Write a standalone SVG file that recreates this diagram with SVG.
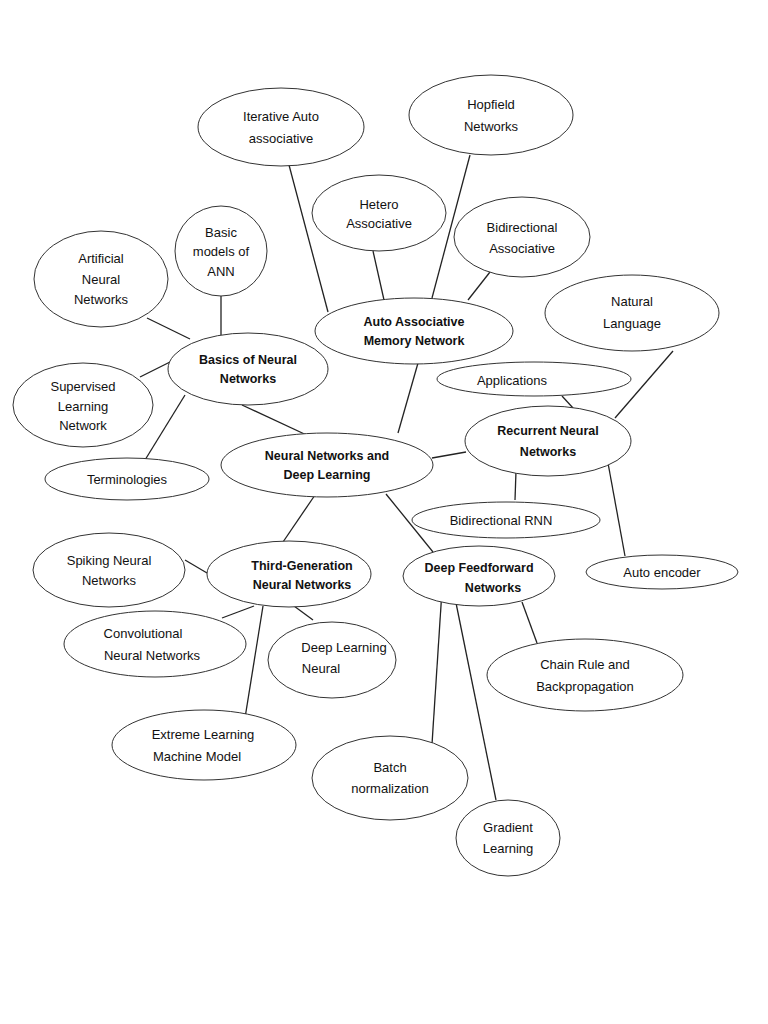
<svg xmlns="http://www.w3.org/2000/svg" width="768" height="1024" viewBox="0 0 768 1024">
<style>
ellipse{fill:#fff;stroke:#333;stroke-width:1}
line{stroke:#222;stroke-width:1.3}
text{font-family:"Liberation Sans",Arial,sans-serif;font-size:13px;fill:#111;text-anchor:middle}
.b{font-weight:bold;font-size:12.5px}
</style>
<rect width="768" height="1024" fill="#fff"/>
<g id="connectors">
<line x1="289" y1="165" x2="328" y2="312"/>
<line x1="470" y1="155" x2="432" y2="298"/>
<line x1="373" y1="251" x2="384" y2="300"/>
<line x1="490" y1="272" x2="468" y2="300"/>
<line x1="221" y1="296" x2="221" y2="335"/>
<line x1="147" y1="318" x2="190" y2="339"/>
<line x1="140" y1="377" x2="170" y2="362"/>
<line x1="185" y1="395" x2="145" y2="460"/>
<line x1="242" y1="405" x2="313" y2="438"/>
<line x1="418" y1="363" x2="398" y2="433"/>
<line x1="432" y1="458" x2="466" y2="452"/>
<line x1="673" y1="351" x2="615" y2="418"/>
<line x1="562" y1="396" x2="573" y2="408"/>
<line x1="516" y1="471" x2="515" y2="500"/>
<line x1="608" y1="463" x2="625" y2="556"/>
<line x1="315" y1="495" x2="283" y2="542"/>
<line x1="386" y1="494" x2="433" y2="552"/>
<line x1="185" y1="560" x2="207" y2="573"/>
<line x1="254" y1="606" x2="222" y2="618"/>
<line x1="294" y1="606" x2="313" y2="620"/>
<line x1="263" y1="606" x2="245" y2="718"/>
<line x1="522" y1="602" x2="537" y2="643"/>
<line x1="442" y1="590" x2="432" y2="744"/>
<line x1="455" y1="598" x2="496" y2="800"/>
</g>
<g id="n1"><ellipse cx="281" cy="127" rx="83" ry="39"/><text x="281" y="121">Iterative Auto</text><text x="281" y="143">associative</text></g>
<g id="n2"><ellipse cx="491" cy="115" rx="82" ry="40"/><text x="491" y="109">Hopfield</text><text x="491" y="131">Networks</text></g>
<g id="n3"><ellipse cx="379" cy="213" rx="67" ry="38"/><text x="379" y="209">Hetero</text><text x="379" y="228">Associative</text></g>
<g id="n4"><ellipse cx="522" cy="237" rx="68" ry="40"/><text x="522" y="232">Bidirectional</text><text x="522" y="253">Associative</text></g>
<g id="n5"><ellipse cx="221" cy="251" rx="46" ry="45"/><text x="221" y="237">Basic</text><text x="221" y="256">models of</text><text x="221" y="276">ANN</text></g>
<g id="n6"><ellipse cx="101" cy="279" rx="67" ry="48"/><text x="101" y="263">Artificial</text><text x="101" y="284">Neural</text><text x="101" y="304">Networks</text></g>
<g id="n7"><ellipse cx="414" cy="331" rx="99" ry="33"/><text class="b" x="414" y="326">Auto Associative</text><text class="b" x="414" y="345">Memory Network</text></g>
<g id="n8"><ellipse cx="632" cy="313" rx="87" ry="38"/><text x="632" y="306">Natural</text><text x="632" y="328">Language</text></g>
<g id="n9"><ellipse cx="248" cy="369" rx="80" ry="36"/><text class="b" x="248" y="364">Basics of Neural</text><text class="b" x="248" y="383">Networks</text></g>
<g id="n10"><ellipse cx="83" cy="405" rx="70" ry="42"/><text x="83" y="391">Supervised</text><text x="83" y="411">Learning</text><text x="83" y="430">Network</text></g>
<g id="n11"><ellipse cx="534" cy="379" rx="97" ry="17"/><text x="512" y="385">Applications</text></g>
<g id="n12"><ellipse cx="548" cy="441" rx="83" ry="35"/><text class="b" x="548" y="435">Recurrent Neural</text><text class="b" x="548" y="456">Networks</text></g>
<g id="n13"><ellipse cx="327" cy="465" rx="106" ry="32"/><text class="b" x="327" y="460">Neural Networks and</text><text class="b" x="327" y="479">Deep Learning</text></g>
<g id="n14"><ellipse cx="127" cy="479" rx="82" ry="21"/><text x="127" y="484">Terminologies</text></g>
<g id="n15"><ellipse cx="506" cy="520" rx="94" ry="18"/><text x="501" y="525">Bidirectional RNN</text></g>
<g id="n16"><ellipse cx="109" cy="570" rx="76" ry="37"/><text x="109" y="565">Spiking Neural</text><text x="109" y="585">Networks</text></g>
<g id="n17"><ellipse cx="289" cy="574" rx="82" ry="33"/><text class="b" x="302" y="570">Third-Generation</text><text class="b" x="302" y="589">Neural Networks</text></g>
<g id="n18"><ellipse cx="479" cy="576" rx="76" ry="30"/><text class="b" x="479" y="572">Deep Feedforward</text><text class="b" x="493" y="592">Networks</text></g>
<g id="n19"><ellipse cx="662" cy="572" rx="76" ry="17"/><text x="662" y="577">Auto encoder</text></g>
<g id="n20"><ellipse cx="155" cy="644" rx="91" ry="33"/><text x="143" y="638">Convolutional</text><text x="152" y="660">Neural Networks</text></g>
<g id="n21"><ellipse cx="332" cy="660" rx="64" ry="38"/><text x="344" y="652">Deep Learning</text><text x="321" y="673">Neural</text></g>
<g id="n22"><ellipse cx="585" cy="675" rx="98" ry="36"/><text x="585" y="669">Chain Rule and</text><text x="585" y="691">Backpropagation</text></g>
<g id="n23"><ellipse cx="204" cy="745" rx="92" ry="35"/><text x="203" y="739">Extreme Learning</text><text x="197" y="761">Machine Model</text></g>
<g id="n24"><ellipse cx="390" cy="778" rx="78" ry="42"/><text x="390" y="772">Batch</text><text x="390" y="793">normalization</text></g>
<g id="n25"><ellipse cx="508" cy="838" rx="52" ry="38"/><text x="508" y="832">Gradient</text><text x="508" y="853">Learning</text></g>
</svg>
